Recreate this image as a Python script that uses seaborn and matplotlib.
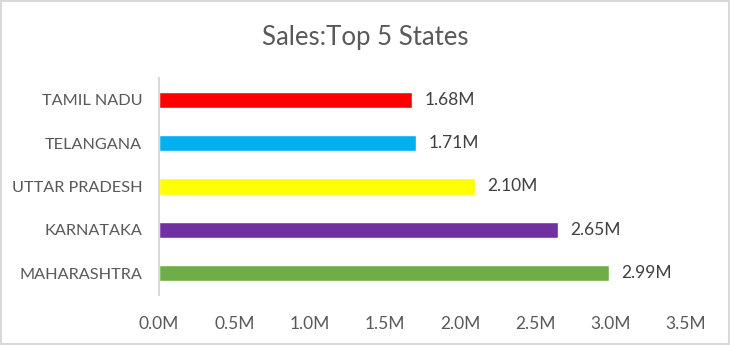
import matplotlib
matplotlib.use("Agg")
import matplotlib.pyplot as plt
import seaborn as sns
import pandas as pd
from matplotlib.patches import Rectangle

states = ["TAMIL NADU", "TELANGANA", "UTTAR PRADESH", "KARNATAKA", "MAHARASHTRA"]
sales_m = [1.68, 1.71, 2.10, 2.65, 2.99]
colors = ["#FF0000", "#00B0F0", "#FFFF00", "#7030A0", "#70AD47"]
xticks = [0.0, 0.5, 1.0, 1.5, 2.0, 2.5, 3.0, 3.5]
title = "Sales:Top 5 States"

sns.set_theme(style="white")
plt.rcParams['font.family'] = ['Lato', 'DejaVu Sans']

df = pd.DataFrame({"state": states, "sales": sales_m})

fig = plt.figure(figsize=(7.31, 3.45), dpi=100)
ax = fig.add_axes([0.2175, 0.145, 0.7209, 0.629])
sns.barplot(data=df, x="sales", y="state", hue="state", palette=colors,
            order=states, hue_order=states, width=0.37, legend=False,
            ax=ax, saturation=1)

ax.set_xlim(0, 3.5)
ax.set_ylim(4.5, -0.5)
ax.set_xticks(xticks)
ax.set_xticklabels([f"{v:.1f}M" for v in xticks])
ax.set_xlabel("")
ax.set_ylabel("")
ax.tick_params(axis="both", length=0, colors="#595959")
ax.tick_params(axis="x", pad=15, labelsize=12.5)
ax.tick_params(axis="y", pad=12, labelsize=11.7)
for s in ["top", "right", "bottom"]:
    ax.spines[s].set_visible(False)
ax.spines["left"].set_color("#D9D9D9")
ax.spines["left"].set_linewidth(1.5)

for i, v in enumerate(sales_m):
    ax.annotate(f"{v:.2f}M", xy=(v, i), xytext=(9, 0), textcoords="offset points",
                va="center", ha="left", fontsize=12.5, color="#404040")

fig.text(0.5, 0.89, title, ha="center", va="center", fontsize=18.5, color="#595959")
fig.patches.append(Rectangle((0.002, 0.003), 0.995, 0.993, transform=fig.transFigure,
                             fill=False, edgecolor="#D9D9D9", linewidth=1.5))

fig.savefig("out.png", dpi=100, facecolor="white")
